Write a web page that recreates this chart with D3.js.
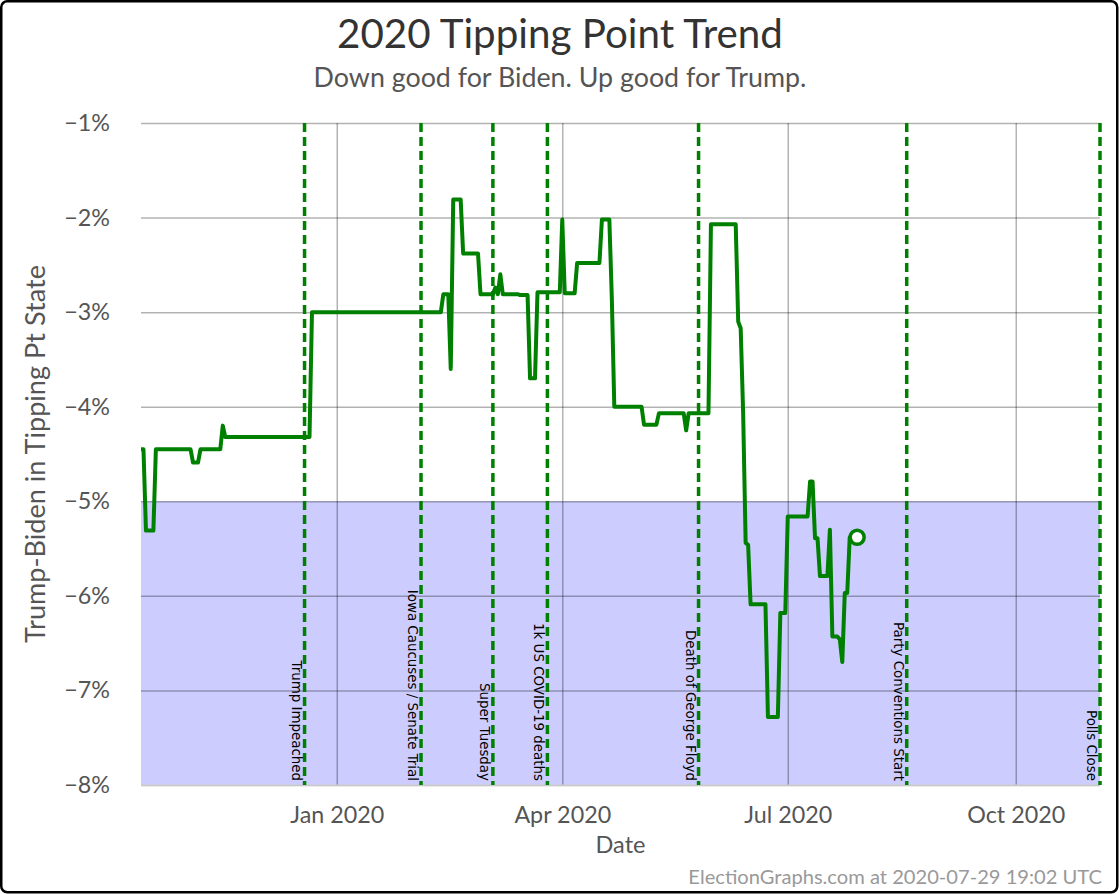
<!DOCTYPE html>
<html>
<head>
<meta charset="utf-8">
<script src="https://cdn.jsdelivr.net/npm/d3@7"></script>
<style>
  body { margin: 0; background: #fff; }
  svg { display: block; }
</style>
</head>
<body>
<svg id="chart" width="1120" height="894"></svg>
<script>
// ---------------- DATA ----------------
const lineDates = [
  "2019-10-14","2019-10-15","2019-10-16","2019-10-19","2019-10-20","2019-11-03","2019-11-04","2019-11-06",
  "2019-11-07","2019-11-15","2019-11-16","2019-11-17","2019-12-21","2019-12-22","2020-02-12","2020-02-13",
  "2020-02-15","2020-02-16","2020-02-17","2020-02-20","2020-02-21","2020-02-27","2020-02-28","2020-03-04",
  "2020-03-05","2020-03-06","2020-03-07","2020-03-08","2020-03-14","2020-03-15","2020-03-18","2020-03-19",
  "2020-03-21","2020-03-22","2020-03-31","2020-04-01","2020-04-02","2020-04-06","2020-04-07","2020-04-16",
  "2020-04-17","2020-04-20","2020-04-21","2020-04-22","2020-05-03","2020-05-04","2020-05-09","2020-05-10",
  "2020-05-20","2020-05-21","2020-05-22","2020-05-30","2020-05-31","2020-06-10","2020-06-11","2020-06-12",
  "2020-06-13","2020-06-14","2020-06-15","2020-06-16","2020-06-22","2020-06-23","2020-06-27","2020-06-28",
  "2020-06-30","2020-07-01","2020-07-09","2020-07-10","2020-07-11","2020-07-12","2020-07-13","2020-07-14",
  "2020-07-17","2020-07-18","2020-07-19","2020-07-21","2020-07-22","2020-07-23","2020-07-24","2020-07-25",
  "2020-07-26","2020-07-29"
];
const lineValues = [
  -4.45,-4.45,-5.31,-5.31,-4.45,-4.45,-4.59,-4.59,
  -4.45,-4.45,-4.20,-4.32,-4.32,-3.00,-3.00,-2.81,
  -2.81,-3.60,-1.81,-1.81,-2.38,-2.38,-2.81,-2.81,
  -2.74,-2.81,-2.60,-2.81,-2.81,-2.82,-2.82,-3.70,
  -3.70,-2.79,-2.79,-2.02,-2.80,-2.80,-2.48,-2.48,
  -2.02,-2.02,-2.85,-4.00,-4.00,-4.19,-4.19,-4.07,
  -4.07,-4.25,-4.07,-4.07,-2.07,-2.07,-3.10,-3.17,
  -4.07,-5.44,-5.46,-6.09,-6.09,-7.28,-7.28,-6.18,
  -6.18,-5.16,-5.16,-4.79,-4.79,-5.39,-5.39,-5.79,
  -5.79,-5.30,-6.43,-6.43,-6.46,-6.70,-5.97,-5.97,
  -5.38,-5.38
];
const eventDates = ["2019-12-19","2020-02-04","2020-03-04","2020-03-26","2020-05-26","2020-08-18","2020-11-04"];
const eventLabels = ["Trump Impeached","Iowa Caucuses / Senate Trial","Super Tuesday","1k US COVID-19 deaths",
                     "Death of George Floyd","Party Conventions Start","Polls Close"];
const yTickValues = [-8,-7,-6,-5,-4,-3,-2,-1];
const xTickDates = ["2020-01-01","2020-04-01","2020-07-01","2020-10-01"];
const xDomain = ["2019-10-14","2020-11-04"];
const yDomain = [-8,-1];
const shadeFrom = -5;

const titleText = "2020 Tipping Point Trend";
const subtitleText = "Down good for Biden. Up good for Trump.";
const yTitleText = "Trump-Biden in Tipping Pt State";
const xTitleText = "Date";
const footerText = "ElectionGraphs.com at 2020-07-29 19:02 UTC";

// ---------------- LAYOUT ----------------
const parse = s => new Date(s + "T00:00:00Z");
const L = 141, R = 1100, T = 123, B = 785;
const FONT = "Lato, 'Open Sans', sans-serif";
const green = "#008000";

const svg = d3.select("#chart");
const x = d3.scaleUtc().domain(xDomain.map(parse)).range([L, R]);
const y = d3.scaleLinear().domain(yDomain).range([B, T]);

function fit(sel, target) {
  const w = sel.node().getComputedTextLength();
  const fs = parseFloat(sel.attr("font-size"));
  sel.attr("font-size", (fs * target / w).toFixed(2));
  return sel;
}

svg.append("rect").attr("width", 1120).attr("height", 894).attr("fill", "#fff");

// shaded region
svg.append("rect")
  .attr("x", L).attr("y", y(shadeFrom))
  .attr("width", R - L).attr("height", y(yDomain[0]) - y(shadeFrom))
  .attr("fill", "#ccccff");

// Y axis with gridlines
const yAxis = svg.append("g")
  .attr("transform", `translate(${L},0)`)
  .call(d3.axisLeft(y).tickValues(yTickValues).tickSize(-(R - L)).tickPadding(31)
        .tickFormat(d => d3.format("d")(d) + "%"));
yAxis.select(".domain").remove();
yAxis.selectAll(".tick line").attr("stroke", "rgba(0,0,0,0.3)").attr("stroke-width", 1.5);
yAxis.selectAll(".tick text").attr("fill", "#555").attr("font-family", FONT).attr("font-size", 18);

// X axis with gridlines
const xAxis = svg.append("g")
  .attr("transform", `translate(0,${B})`)
  .call(d3.axisBottom(x).tickValues(xTickDates.map(parse)).tickSize(-(B - T)).tickPadding(20)
        .tickFormat(d3.utcFormat("%b %Y")));
xAxis.select(".domain").remove();
xAxis.selectAll(".tick line").attr("stroke", "rgba(0,0,0,0.3)").attr("stroke-width", 1.5);
xAxis.selectAll(".tick text").attr("fill", "#555").attr("font-family", FONT).attr("font-size", 18)
  .attr("dy", null).attr("y", 38);

{
  const ref = xAxis.select(".tick text");
  fit(ref, 94);
  const fs = ref.attr("font-size");
  xAxis.selectAll(".tick text").attr("font-size", fs);
  yAxis.selectAll(".tick text").attr("font-size", fs);
}

svg.append("line").attr("x1", L).attr("x2", R).attr("y1", B).attr("y2", B)
  .attr("stroke", "#ddd").attr("stroke-width", 1);

// event lines and labels
const events = eventDates.map((d, i) => ({ date: parse(d), label: eventLabels[i] }));
const ev = svg.append("g");
ev.selectAll("line").data(events).join("line")
  .attr("x1", d => x(d.date)).attr("x2", d => x(d.date))
  .attr("y1", T).attr("y2", B)
  .attr("stroke", green).attr("stroke-width", 3.5).attr("stroke-dasharray", "9,5");
ev.selectAll("text").data(events).join("text")
  .attr("transform", d => `translate(${x(d.date) - 13},${B - 4}) rotate(90)`)
  .attr("text-anchor", "end")
  .attr("font-family", "'DejaVu Sans', sans-serif")
  .attr("font-size", 13.4)
  .attr("fill", "#000")
  .text(d => d.label);

// data line
const pts = lineDates.map((d, i) => ({ date: parse(d), v: lineValues[i] }));
svg.append("path")
  .datum(pts)
  .attr("fill", "none")
  .attr("stroke", green)
  .attr("stroke-width", 4)
  .attr("stroke-linejoin", "round")
  .attr("d", d3.line().x(d => x(d.date)).y(d => y(d.v)));

const last = pts[pts.length - 1];
svg.append("circle")
  .attr("cx", x(last.date)).attr("cy", y(last.v)).attr("r", 7)
  .attr("fill", "#fff").attr("stroke", green).attr("stroke-width", 3.5);

// titles
const title = svg.append("text").attr("x", 560).attr("y", 48).attr("text-anchor", "middle")
  .attr("font-family", FONT).attr("font-size", 34).attr("fill", "#333").text(titleText);
fit(title, 446);
const sub = svg.append("text").attr("x", 560).attr("y", 87).attr("text-anchor", "middle")
  .attr("font-family", FONT).attr("font-size", 20).attr("fill", "#555").text(subtitleText);
fit(sub, 493);
const yt = svg.append("text").attr("transform", "translate(45,454) rotate(-90)").attr("text-anchor", "middle")
  .attr("font-family", FONT).attr("font-size", 20).attr("fill", "#555").text(yTitleText);
fit(yt, 378);
const xt = svg.append("text").attr("x", (L + R) / 2).attr("y", 853).attr("text-anchor", "middle")
  .attr("font-family", FONT).attr("font-size", 20).attr("fill", "#555").text(xTitleText);
fit(xt, 50);
const ft = svg.append("text").attr("x", 1102).attr("y", 884).attr("text-anchor", "end")
  .attr("font-family", FONT).attr("font-size", 16).attr("fill", "#999").text(footerText);
fit(ft, 414);

// outer border
svg.append("rect").attr("x", 1.25).attr("y", 1.25).attr("width", 1116).attr("height", 891)
  .attr("rx", 6).attr("fill", "none").attr("stroke", "#000").attr("stroke-width", 2.5);
</script>
</body>
</html>
